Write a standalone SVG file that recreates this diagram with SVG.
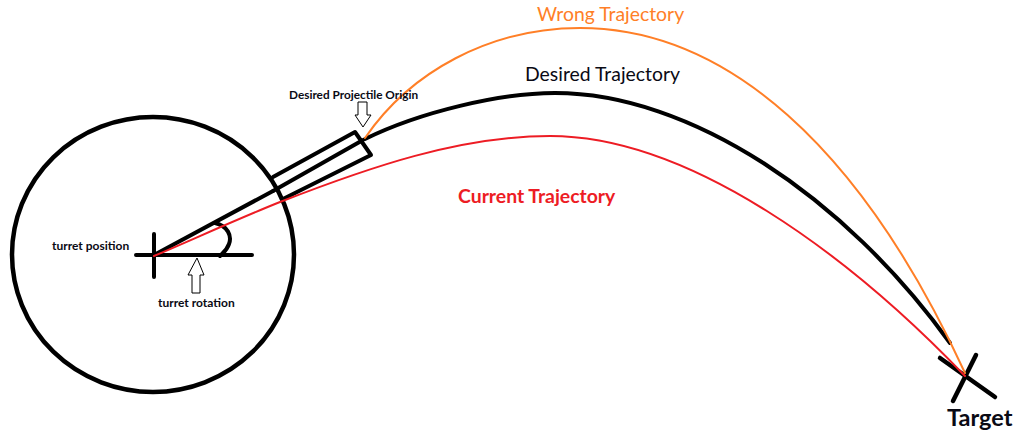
<svg xmlns="http://www.w3.org/2000/svg" width="1024" height="441" viewBox="0 0 1024 441">
<style>
.k{fill:none;stroke:#000;stroke-width:4;stroke-linecap:round;stroke-linejoin:round}
.t{fill:none;stroke-linecap:round}
.a{fill:#fff;stroke:#000;stroke-width:1}
text{font-family:Lato,"Open Sans",sans-serif}
.s{font-size:12px;font-weight:700;fill:#0a0a14}
.m{font-size:19.400px}
</style>
<rect width="1024" height="441" fill="#fff"/>
<g id="turret">
<ellipse class="k" cx="153" cy="254.500" rx="141" ry="137.500" style="stroke-width:4.500"/>
<path class="k" d="M154 234V277M136 255H252"/>
<path class="k" d="M154 255L273 191M215 223C228 226 232 236 229 244C227 250 224 252 220 256"/>
</g>
<g id="barrel">
<path class="k" d="M273 177L355 132L371 155L283 199M273 191L363 140"/>
</g>
<g id="target">
<path class="k" d="M940 358L995 397M976 355L953 401" style="stroke-width:4.500"/>
</g>
<g id="connectors">
<path class="k" d="M365 139C420 112 500 93 555 93C690 93 845 197 950 343"/>
<path class="t" stroke="#ed1c24" stroke-width="2" d="M154 256C196 238 240 218 280 202C370 167 460 136 550 136C690 136 850 256 965 376"/>
<path class="t" stroke="#ff7f27" stroke-width="2" d="M365 138C410 72 490 28 580 28C725 28 860 145 965 373"/>
</g>
<g id="arrow-origin"><path class="a" d="M358 102H367V115H371L363 127L355 115H358Z"/></g>
<g id="arrow-rotation"><path class="a" d="M192 293V275H188L197 258L204 275H200V293Z"/></g>
<g id="labels">
<text class="s" x="52" y="250">turret position</text>
<text class="s" x="158" y="307">turret rotation</text>
<text class="s" x="289" y="99" style="font-size:11.800px">Desired Projectile Origin</text>
<text class="m" x="537" y="21" fill="#ff7f27">Wrong Trajectory</text>
<text class="m" x="525" y="81" fill="#0a0a14">Desired Trajectory</text>
<text class="m" x="458" y="203" fill="#ed1c24" font-weight="700">Current Trajectory</text>
<text x="947" y="426" font-size="23.500" font-weight="700" fill="#0a0a14">Target</text>
</g>
</svg>
